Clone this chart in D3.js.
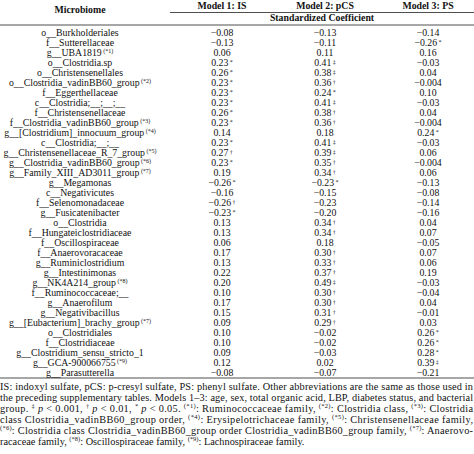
<!DOCTYPE html>
<html><head><meta charset="utf-8">
<script src="https://cdn.jsdelivr.net/npm/d3@7"></script>
<style>body{margin:0;background:#fff}svg{display:block}text{font-family:"Liberation Serif","DejaVu Serif",serif;fill:#111}</style>
</head><body><svg id="c" width="474" height="454"></svg>
<script>
const microbiome=["o__Burkholderiales","f__Sutterellaceae","g__UBA1819|(*1)","o__Clostridia.sp","o__Christensenellales","o__Clostridia_vadinBB60_group|(*2)","f__Eggerthellaceae","c__Clostridia;__;__;__","f__Christensenellaceae","f__Clostridia_vadinBB60_group|(*3)","g__[Clostridium]_innocuum_group|(*4)","c__Clostridia;__;__","g__Christensenellaceae_R_7_group|(*5)","g__Clostridia_vadinBB60_group|(*6)","g__Family_XIII_AD3011_group|(*7)","g__Megamonas","c__Negativicutes","f__Selenomonadaceae","g__Fusicatenibacter","o__Clostridia","f__Hungateiclostridiaceae","f__Oscillospiraceae","f__Anaerovoracaceae","g__Ruminiclostridium","g__Intestinimonas","g__NK4A214_group|(*8)","f__Ruminococcaceae;__","g__Anaerofilum","g__Negativibacillus","g__[Eubacterium]_brachy_group|(*7)","o__Clostridiales","f__Clostridiaceae","g__Clostridium_sensu_stricto_1","g__GCA-900066755|(*9)","g__Parasutterella"];
const model1=["−0.08","−0.13","0.06","0.23 *","0.26 *","0.23 *","0.23 *","0.23 *","0.26 *","0.23 *","0.14","0.23 *","0.27 †","0.23 *","0.19","−0.26 *","−0.16","−0.26 †","−0.23 *","0.13","0.13","0.06","0.17","0.13","0.22","0.20","0.10","0.17","0.15","0.09","0.10","0.10","0.09","0.12","−0.08"];
const model2=["−0.13","−0.11","0.11","0.41 ‡","0.38 ‡","0.36 †","0.24 *","0.41 ‡","0.38 †","0.36 †","0.18","0.41 ‡","0.39 ‡","0.35 †","0.34 †","−0.23 *","−0.15","−0.23","−0.20","0.34 †","0.34 †","0.18","0.30 †","0.33 †","0.37 †","0.49 ‡","0.30 †","0.30 †","0.31 †","0.29 †","−0.02","−0.02","−0.03","0.02","−0.07"];
const model3=["−0.14","−0.26 *","0.16","−0.03","0.04","−0.004","0.10","−0.03","0.04","−0.004","0.24 *","−0.03","0.06","−0.004","0.06","−0.13","−0.08","−0.14","−0.16","0.04","0.07","−0.05","0.07","0.06","0.19","−0.03","−0.04","0.04","−0.01","0.03","0.26 *","0.26 *","0.28 *","0.39 ‡","−0.21"];
const headers=["Microbiome","Model 1: IS","Model 2: pCS","Model 3: PS"];
const footLines=[
"IS: indoxyl sulfate, pCS: p-cresyl sulfate, PS: phenyl sulfate. Other abbreviations are the same as those used in",
"the preceding supplementary tables. Models 1–3: age, sex, total organic acid, LBP, diabetes status, and bacterial",
"group. ^‡^ ~p~ < 0.001, ^†^ ~p~ < 0.01, ^*^ ~p~ < 0.05. ^(*1)^: Ruminococcaceae family, ^(*2)^: Clostridia class, ^(*3)^: Clostridia",
"class Clostridia_vadinBB60_group order, ^(*4)^: Erysipelotrichaceae family, ^(*5)^: Christensenellaceae family,",
"^(*6)^: Clostridia class Clostridia_vadinBB60_group order Clostridia_vadinBB60_group family, ^(*7)^: Anaerovo-",
"racaceae family, ^(*8)^: Oscillospiraceae family, ^(*9)^: Lachnospiraceae family."];

const svg=d3.select("#c");
const y=d3.scalePoint().domain(d3.range(microbiome.length)).range([33,373]);
const colX=[80,222,325,428];
const fs=9.8;
svg.append("line").attr("x1",170).attr("x2",474).attr("y1",12.5).attr("y2",12.5).attr("stroke","#222").attr("stroke-width",0.8);
svg.append("line").attr("x1",0).attr("x2",474).attr("y1",25).attr("y2",25).attr("stroke","#222").attr("stroke-width",0.8);
svg.append("line").attr("x1",0).attr("x2",474).attr("y1",378).attr("y2",378).attr("stroke","#222").attr("stroke-width",0.8);
headers.forEach((h,i)=>svg.append("text").attr("x",colX[i]).attr("y",i?9:13).attr("text-anchor","middle").attr("font-weight","bold").attr("font-size",fs).text(h));
svg.append("text").attr("x",322).attr("y",21).attr("text-anchor","middle").attr("font-weight","bold").attr("font-size",fs).text("Standardized Coefficient");
function cell(x,yy,s){
  const [a,b]=s.split("|");
  const t=svg.append("text").attr("x",x).attr("y",yy+3.3).attr("text-anchor","middle").attr("font-size",fs);
  t.append("tspan").text(a);
  if(b) t.append("tspan").attr("font-size",6).attr("dy",-3.5).text(" "+b);
}
function val(x,yy,s){
  const [n,m]=s.split(" ");
  const t=svg.append("text").attr("x",x).attr("y",yy+3.3).attr("text-anchor","middle").attr("font-size",fs);
  t.append("tspan").text(n);
  if(m) t.append("tspan").attr("font-size",6).attr("dy",-2.5).text(" "+m);
}
microbiome.forEach((m,i)=>{
  cell(colX[0],y(i),m);val(colX[1],y(i),model1[i]);val(colX[2],y(i),model2[i]);val(colX[3],y(i),model3[i]);
});
footLines.forEach((l,i)=>{
  const t=svg.append("text").attr("x",0).attr("y",390+i*11).attr("font-size",10.3);
  if(i<footLines.length-1) t.attr("textLength",473).attr("lengthAdjust","spacing");
  const re=/\^([^^]*)\^|~([^~]+)~|([^^~]+)/g;let mm;
  let sup=false;
  while((mm=re.exec(l))){
    if(mm[1]!==undefined){const ts=t.append("tspan").attr("font-size",6.5).attr("dy",sup?0:-4).text(mm[1]);sup=true;}
    else{const ts=t.append("tspan").text(mm[2]||mm[3]);if(mm[2])ts.attr("font-style","italic");if(sup){ts.attr("dy",4);sup=false;}}
  }
});
</script></body></html>
